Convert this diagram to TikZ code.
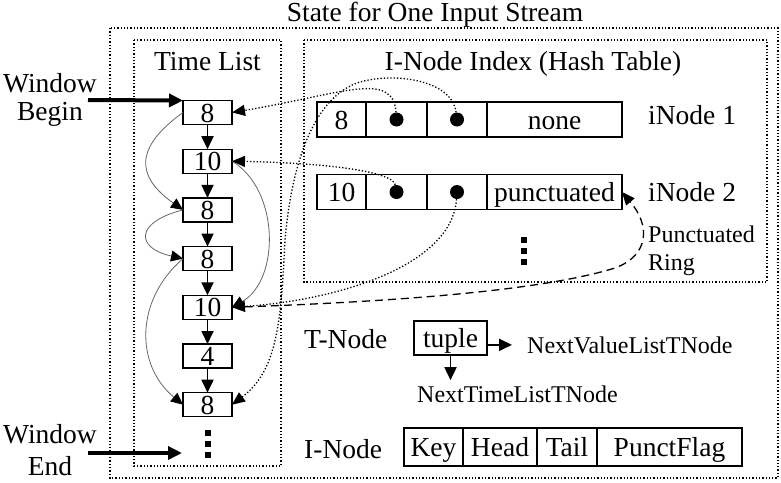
\documentclass[tikz,border=0pt]{standalone}
\usepackage{fontspec}
\setmainfont{Liberation Serif}
\usetikzlibrary{arrows.meta,positioning}

\begin{document}
\begin{tikzpicture}[
    x=1pt, y=-1pt,
    every node/.style={font=\fontsize{27.5}{30}\selectfont},
    tbox/.style={
        draw,
        line width=1.3pt,
        minimum width=49pt,
        minimum height=24pt,
        inner sep=0pt,
        outer sep=0pt,
        text height=19pt,
        text depth=0pt
    },
    hcell/.style={
        draw,
        line width=1.3pt,
        minimum height=35pt,
        inner sep=0pt,
        outer sep=0pt,
        text height=19pt,
        text depth=0pt
    },
    icell/.style={hcell, minimum height=38pt},
    ptrdot/.style={circle, fill, inner sep=0pt, minimum size=14pt},
    boxframe/.style={dotted, line width=1.3pt},
    lbl/.style={inner sep=0pt, anchor=base west},
    smalltext/.style={font=\fontsize{24}{28}\selectfont},
    arrow/.style={-{Triangle[length=13pt,width=12pt]}, line width=1.8pt},
    winarrow/.style={-{Triangle[length=14pt,width=13pt]}, line width=4pt},
    vchain/.style={-{Triangle[length=12pt,width=11pt,color=black]}, line width=0.8pt, black!60},
    ptr/.style={-{Triangle[length=13pt,width=11pt]}, dotted, line width=1.3pt},
    ring/.style={-{Triangle[length=13pt,width=11pt]}, dash pattern=on 8pt off 5pt, line width=1.3pt}
]
\useasboundingbox (0,0) rectangle (781,482);

% Frames
\draw[boxframe] (110,28) rectangle (778,478);
\draw[boxframe] (134,40) rectangle (281,466);
\draw[boxframe] (304,40) rectangle (767,282);

\node[anchor=base] (title) at (435,21) {State for One Input Stream};
\node[anchor=base] (tltitle) at (207.5,70) {Time List};
\node[anchor=base] (hashtitle) at (533,70) {I-Node Index (Hash Table)};

% Time list
\node[tbox] (t1) at (207.5,112.5) {8};
\node[tbox, below=24.7pt of t1] (t2) {10};
\node[tbox, below=24.7pt of t2] (t3) {8};
\node[tbox, below=24.7pt of t3] (t4) {8};
\node[tbox, below=24.7pt of t4] (t5) {10};
\node[tbox, below=24.7pt of t5] (t6) {4};
\node[tbox, below=24.7pt of t6] (t7) {8};
\foreach \y in {430,441,452} \fill (205,\y) rectangle +(6,6);

\node[anchor=north, align=center, font=\fontsize{27.5}{28}\selectfont] (wbegin) at (50,70) {Window\\Begin};
\node[anchor=north, align=center, font=\fontsize{27.5}{32}\selectfont] (wend) at (50,421) {Window\\End};
\coordinate (wbfrom) at (88,100);
\coordinate (wefrom) at (88,453);
\coordinate (weto) at (182,453);

% Hash table
\node[hcell, minimum width=49pt] (h1k) at (341.5,119.5) {8};
\node[hcell, minimum width=61pt, right=0pt of h1k] (h1a) {};
\node[hcell, minimum width=60pt, right=0pt of h1a] (h1b) {};
\node[hcell, minimum width=135pt, right=0pt of h1b] (h1c) {none};

\node[hcell, minimum width=49pt] (h2k) at (341.5,192) {10};
\node[hcell, minimum width=61pt, right=0pt of h2k] (h2a) {};
\node[hcell, minimum width=60pt, right=0pt of h2a] (h2b) {};
\node[hcell, minimum width=135pt, right=0pt of h2b] (h2c) {punctuated};

\node[ptrdot] (p11) at (h1a.center) {};
\node[ptrdot] (p12) at (h1b.center) {};
\node[ptrdot] (p21) at (h2a.center) {};
\node[ptrdot] (p22) at (h2b.center) {};

\node[lbl] (in1) at (648,124) {iNode 1};
\node[lbl] (in2) at (648,201) {iNode 2};
\node[smalltext, anchor=north west, align=left, inner sep=0pt] (pring) at (648,226) {Punctuated\\Ring};
\foreach \y in {237,248,259} \fill (521,\y) rectangle +(6,6);

% Legend
\node[lbl] (tnlabel) at (304,348) {T-Node};
\node[hcell, minimum width=73pt, minimum height=34pt] (tuple) at (450.5,338) {tuple};
\node[lbl, smalltext] (nvl) at (527,353) {NextValueListTNode};
\node[lbl, smalltext] (ntl) at (417,402) {NextTimeListTNode};

\node[lbl] (inlabel) at (304,458) {I-Node};
\node[icell, minimum width=59pt] (ik) at (433.5,447) {Key};
\node[icell, minimum width=74pt, right=0pt of ik] (ih) {Head};
\node[icell, minimum width=60pt, right=0pt of ih] (it) {Tail};
\node[icell, minimum width=145pt, right=0pt of it] (ipf) {PunctFlag};

% Arrows
\draw[winarrow] (wbfrom) -- (t1.north west);
\draw[winarrow] (wefrom) -- (weto);

\draw[arrow] (t1) -- (t2);
\draw[arrow] (t2) -- (t3);
\draw[arrow] (t3) -- (t4);
\draw[arrow] (t4) -- (t5);
\draw[arrow] (t5) -- (t6);
\draw[arrow] (t6) -- (t7);

\draw[vchain] (t1.west) .. controls (135,147) and (135,176) .. (t3.west);
\draw[vchain] (t3.west) .. controls (135,222) and (135,248) .. (t4.west);
\draw[vchain] (t4.west) .. controls (135,300) and (135,365) .. (t7.west);
\draw[vchain] (t2.east) .. controls (280,190) and (280,280) .. (t5.east);

\draw[ptr] (p11) .. controls (393,70) and (342,94) .. (t1.east);
\draw[ptr] (p12) .. controls (452,80) and (395,72) .. (360,82)
    .. controls (315,96) and (292,160) .. (285,240)
    .. controls (281,320) and (278,370) .. (t7.east);
\draw[ptr] (p21) .. controls (393,172) and (330,163) .. (t2.east);
\draw[ptr] (p22) .. controls (452,265) and (340,300) .. (t5.east);

\draw[ring] (t5.east) .. controls (450,300) and (560,285) .. (615,268)
    .. controls (650,255) and (650,225) .. (h2c.east);

\draw[arrow] (tuple.east |- nvl.west) -- ([xshift=-15pt]nvl.west);
\draw[arrow] (tuple.south) -- ([yshift=5pt]tuple.south |- ntl.north);

\end{tikzpicture}
\end{document}
